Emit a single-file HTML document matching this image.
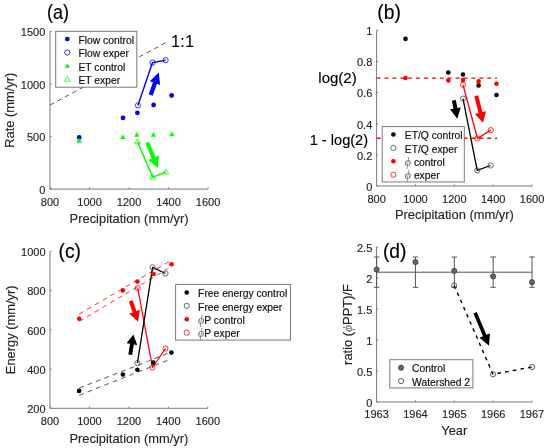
<!DOCTYPE html><html><head><meta charset="utf-8"><style>html,body{margin:0;padding:0;background:#fff;overflow:hidden}svg{display:block;filter:blur(0.3px)}</style></head><body>
<svg width="550" height="448" viewBox="0 0 550 448" font-family="Liberation Sans, sans-serif">
<rect width="550" height="448" fill="#fff"/>
<line x1="50.00" y1="105.10" x2="165.60" y2="42.70" stroke="#505050" stroke-width="1.0" stroke-dasharray="4.6,3.85"/>
<path d="M50,31.4 V189.1 H208.1" fill="none" stroke="#7a7a7a" stroke-width="1.0"/>
<line x1="50.00" y1="189.10" x2="50.00" y2="187.50" stroke="#7a7a7a" stroke-width="1.0" />
<line x1="89.53" y1="189.10" x2="89.53" y2="187.50" stroke="#7a7a7a" stroke-width="1.0" />
<line x1="129.05" y1="189.10" x2="129.05" y2="187.50" stroke="#7a7a7a" stroke-width="1.0" />
<line x1="168.57" y1="189.10" x2="168.57" y2="187.50" stroke="#7a7a7a" stroke-width="1.0" />
<line x1="208.10" y1="189.10" x2="208.10" y2="187.50" stroke="#7a7a7a" stroke-width="1.0" />
<line x1="50.00" y1="189.10" x2="51.60" y2="189.10" stroke="#7a7a7a" stroke-width="1.0" />
<line x1="50.00" y1="136.53" x2="51.60" y2="136.53" stroke="#7a7a7a" stroke-width="1.0" />
<line x1="50.00" y1="83.97" x2="51.60" y2="83.97" stroke="#7a7a7a" stroke-width="1.0" />
<line x1="50.00" y1="31.40" x2="51.60" y2="31.40" stroke="#7a7a7a" stroke-width="1.0" />
<text x="50.00" y="205.80" font-size="11.0" text-anchor="middle" fill="#262626" stroke="#262626" stroke-width="0.15" >800</text>
<text x="89.53" y="205.80" font-size="11.0" text-anchor="middle" fill="#262626" stroke="#262626" stroke-width="0.15" >1000</text>
<text x="129.05" y="205.80" font-size="11.0" text-anchor="middle" fill="#262626" stroke="#262626" stroke-width="0.15" >1200</text>
<text x="168.57" y="205.80" font-size="11.0" text-anchor="middle" fill="#262626" stroke="#262626" stroke-width="0.15" >1400</text>
<text x="208.10" y="205.80" font-size="11.0" text-anchor="middle" fill="#262626" stroke="#262626" stroke-width="0.15" >1600</text>
<text x="45.30" y="193.90" font-size="11.0" text-anchor="end" fill="#262626" stroke="#262626" stroke-width="0.15" >0</text>
<text x="45.30" y="141.33" font-size="11.0" text-anchor="end" fill="#262626" stroke="#262626" stroke-width="0.15" >500</text>
<text x="45.30" y="88.77" font-size="11.0" text-anchor="end" fill="#262626" stroke="#262626" stroke-width="0.15" >1000</text>
<text x="45.30" y="36.20" font-size="11.0" text-anchor="end" fill="#262626" stroke="#262626" stroke-width="0.15" >1500</text>
<text x="129.05" y="223.10" font-size="12.9" text-anchor="middle" fill="#262626" stroke="#262626" stroke-width="0.15" >Precipitation (mm/yr)</text>
<text transform="translate(14.4,110.25) rotate(-90)" x="0" y="0" font-size="12.9" text-anchor="middle" fill="#262626" stroke="#262626" stroke-width="0.15">Rate (mm/yr)</text>
<polyline points="137.90,105.40 152.50,62.60 165.60,60.20" fill="none" stroke="#0000ff" stroke-width="1.4" stroke-linejoin="round" />
<polyline points="137.50,141.80 152.70,177.20 165.80,171.90" fill="none" stroke="#00ff00" stroke-width="1.5" stroke-linejoin="round" />
<circle cx="79.20" cy="137.50" r="2.4" fill="#0000ff"/>
<circle cx="123.00" cy="117.90" r="2.4" fill="#0000ff"/>
<circle cx="137.40" cy="112.80" r="2.4" fill="#0000ff"/>
<circle cx="153.60" cy="105.00" r="2.4" fill="#0000ff"/>
<circle cx="171.60" cy="95.50" r="2.4" fill="#0000ff"/>
<circle cx="137.90" cy="105.40" r="2.6" fill="none" stroke="#0000ff" stroke-width="0.8"/>
<circle cx="152.50" cy="62.60" r="2.6" fill="none" stroke="#0000ff" stroke-width="0.8"/>
<circle cx="165.60" cy="60.20" r="2.6" fill="none" stroke="#0000ff" stroke-width="0.8"/>
<polygon points="79.20,137.94 76.53,142.63 81.87,142.63" fill="#00ff00"/>
<polygon points="122.80,134.24 120.13,138.93 125.47,138.93" fill="#00ff00"/>
<polygon points="136.80,132.04 134.13,136.73 139.47,136.73" fill="#00ff00"/>
<polygon points="153.40,132.04 150.73,136.73 156.07,136.73" fill="#00ff00"/>
<polygon points="171.90,131.44 169.23,136.13 174.57,136.13" fill="#00ff00"/>
<polygon points="137.50,138.92 134.72,143.82 140.28,143.82" fill="none" stroke="#00ff00" stroke-width="0.8"/>
<polygon points="152.70,174.32 149.92,179.22 155.48,179.22" fill="none" stroke="#00ff00" stroke-width="0.8"/>
<polygon points="165.80,169.02 163.02,173.92 168.58,173.92" fill="none" stroke="#00ff00" stroke-width="0.8"/>
<polygon points="152.68,95.71 156.95,83.75 160.16,84.90 158.75,72.50 149.80,81.19 153.00,82.34 148.72,94.29" fill="#0000ff"/>
<polygon points="145.36,143.28 151.79,158.54 148.33,160.00 157.90,167.90 158.93,155.53 155.47,156.99 149.04,141.72" fill="#00ff00"/>
<rect x="55.7" y="31.3" width="81.10000000000001" height="55.900000000000006" fill="#fff" stroke="#7a7a7a" stroke-width="1.0"/>
<circle cx="67.30" cy="39.10" r="2.4" fill="#0000ff"/>
<text x="78.5" y="43.70" font-size="10.3" fill="#111" stroke="#111" stroke-width="0.18">Flow control</text>
<circle cx="67.30" cy="52.50" r="2.6" fill="none" stroke="#0000ff" stroke-width="0.8"/>
<text x="78.5" y="57.10" font-size="10.3" fill="#111" stroke="#111" stroke-width="0.18">Flow exper</text>
<polygon points="67.30,63.14 64.63,67.83 69.97,67.83" fill="#00ff00"/>
<text x="78.5" y="70.50" font-size="10.3" fill="#111" stroke="#111" stroke-width="0.18">ET control</text>
<polygon points="67.30,76.42 64.52,81.32 70.08,81.32" fill="none" stroke="#00ff00" stroke-width="0.8"/>
<text x="78.5" y="83.90" font-size="10.3" fill="#111" stroke="#111" stroke-width="0.18">ET exper</text>
<text x="171.20" y="47.20" font-size="15.6" text-anchor="start" fill="#000" stroke="#000" stroke-width="0.15" letter-spacing="0.5">1:1</text>
<text x="47.10" y="19.30" font-size="20" text-anchor="start" fill="#000" stroke="#000" stroke-width="0.15" textLength="22.0" lengthAdjust="spacingAndGlyphs">(a)</text>
<path d="M376.6,30.3 V186.0 H532.1" fill="none" stroke="#7a7a7a" stroke-width="1.0"/>
<line x1="376.60" y1="186.00" x2="376.60" y2="184.40" stroke="#7a7a7a" stroke-width="1.0" />
<line x1="415.48" y1="186.00" x2="415.48" y2="184.40" stroke="#7a7a7a" stroke-width="1.0" />
<line x1="454.35" y1="186.00" x2="454.35" y2="184.40" stroke="#7a7a7a" stroke-width="1.0" />
<line x1="493.23" y1="186.00" x2="493.23" y2="184.40" stroke="#7a7a7a" stroke-width="1.0" />
<line x1="532.10" y1="186.00" x2="532.10" y2="184.40" stroke="#7a7a7a" stroke-width="1.0" />
<line x1="376.60" y1="186.00" x2="378.20" y2="186.00" stroke="#7a7a7a" stroke-width="1.0" />
<line x1="376.60" y1="154.86" x2="378.20" y2="154.86" stroke="#7a7a7a" stroke-width="1.0" />
<line x1="376.60" y1="123.72" x2="378.20" y2="123.72" stroke="#7a7a7a" stroke-width="1.0" />
<line x1="376.60" y1="92.58" x2="378.20" y2="92.58" stroke="#7a7a7a" stroke-width="1.0" />
<line x1="376.60" y1="61.44" x2="378.20" y2="61.44" stroke="#7a7a7a" stroke-width="1.0" />
<line x1="376.60" y1="30.30" x2="378.20" y2="30.30" stroke="#7a7a7a" stroke-width="1.0" />
<text x="376.60" y="202.60" font-size="11.0" text-anchor="middle" fill="#262626" stroke="#262626" stroke-width="0.15" >800</text>
<text x="415.48" y="202.60" font-size="11.0" text-anchor="middle" fill="#262626" stroke="#262626" stroke-width="0.15" >1000</text>
<text x="454.35" y="202.60" font-size="11.0" text-anchor="middle" fill="#262626" stroke="#262626" stroke-width="0.15" >1200</text>
<text x="493.23" y="202.60" font-size="11.0" text-anchor="middle" fill="#262626" stroke="#262626" stroke-width="0.15" >1400</text>
<text x="532.10" y="202.60" font-size="11.0" text-anchor="middle" fill="#262626" stroke="#262626" stroke-width="0.15" >1600</text>
<text x="372.30" y="190.80" font-size="11.0" text-anchor="end" fill="#262626" stroke="#262626" stroke-width="0.15" >0</text>
<text x="372.30" y="159.66" font-size="11.0" text-anchor="end" fill="#262626" stroke="#262626" stroke-width="0.15" >0.2</text>
<text x="372.30" y="128.52" font-size="11.0" text-anchor="end" fill="#262626" stroke="#262626" stroke-width="0.15" >0.4</text>
<text x="372.30" y="97.38" font-size="11.0" text-anchor="end" fill="#262626" stroke="#262626" stroke-width="0.15" >0.6</text>
<text x="372.30" y="66.24" font-size="11.0" text-anchor="end" fill="#262626" stroke="#262626" stroke-width="0.15" >0.8</text>
<text x="372.30" y="35.10" font-size="11.0" text-anchor="end" fill="#262626" stroke="#262626" stroke-width="0.15" >1</text>
<text x="454.35" y="218.90" font-size="12.9" text-anchor="middle" fill="#262626" stroke="#262626" stroke-width="0.15" >Precipitation (mm/yr)</text>
<line x1="376.60" y1="78.10" x2="497.10" y2="78.10" stroke="#ff0000" stroke-width="1.4" stroke-dasharray="3.9,4.0"/>
<line x1="376.60" y1="138.30" x2="497.10" y2="138.30" stroke="#ff0000" stroke-width="1.4" stroke-dasharray="3.9,4.0"/>
<polyline points="463.00,84.80 477.50,138.50 490.80,130.10" fill="none" stroke="#ff0000" stroke-width="1.3" stroke-linejoin="round" />
<polyline points="463.00,98.60 477.20,170.40 490.60,165.50" fill="none" stroke="#000000" stroke-width="1.3" stroke-linejoin="round" />
<circle cx="405.50" cy="38.90" r="2.3" fill="#000000"/>
<circle cx="448.30" cy="72.50" r="2.3" fill="#000000"/>
<circle cx="463.00" cy="74.50" r="2.3" fill="#000000"/>
<circle cx="478.60" cy="85.40" r="2.3" fill="#000000"/>
<circle cx="496.50" cy="95.00" r="2.3" fill="#000000"/>
<circle cx="405.50" cy="78.00" r="2.3" fill="#ff0000"/>
<circle cx="448.30" cy="80.40" r="2.3" fill="#ff0000"/>
<circle cx="463.00" cy="80.10" r="2.3" fill="#ff0000"/>
<circle cx="478.60" cy="81.40" r="2.3" fill="#ff0000"/>
<circle cx="496.50" cy="83.80" r="2.3" fill="#ff0000"/>
<circle cx="463.00" cy="84.80" r="2.6" fill="none" stroke="#ff0000" stroke-width="0.8"/>
<circle cx="477.50" cy="138.50" r="2.6" fill="none" stroke="#ff0000" stroke-width="0.8"/>
<circle cx="490.80" cy="130.10" r="2.6" fill="none" stroke="#ff0000" stroke-width="0.8"/>
<circle cx="463.00" cy="98.60" r="2.6" fill="none" stroke="#444" stroke-width="0.8"/>
<circle cx="477.20" cy="170.40" r="2.6" fill="none" stroke="#444" stroke-width="0.8"/>
<circle cx="490.60" cy="165.50" r="2.6" fill="none" stroke="#444" stroke-width="0.8"/>
<polygon points="451.93,100.71 453.42,108.74 450.03,109.37 457.30,118.70 460.75,107.38 457.35,108.01 455.87,99.99" fill="#000000"/>
<polygon points="474.36,96.29 478.54,113.00 474.95,113.90 483.05,122.80 486.01,111.13 482.42,112.03 478.24,95.31" fill="#ff0000"/>
<rect x="382.2" y="126.6" width="82.10000000000002" height="55.349999999999994" fill="#fff" stroke="#7a7a7a" stroke-width="1.0"/>
<circle cx="393.40" cy="134.50" r="2.3" fill="#000000"/>
<text x="404.8" y="139.10" font-size="10.3" fill="#111" stroke="#111" stroke-width="0.18">ET/Q control</text>
<circle cx="393.40" cy="147.90" r="2.6" fill="none" stroke="#444" stroke-width="0.8"/>
<text x="404.8" y="152.50" font-size="10.3" fill="#111" stroke="#111" stroke-width="0.18">ET/Q exper</text>
<circle cx="393.40" cy="161.30" r="2.3" fill="#ff0000"/>
<text x="404.8" y="165.90" font-size="10.3" fill="#111" stroke="#111" stroke-width="0.18"><tspan font-family="Liberation Serif, serif" font-style="italic" font-size="12" fill="#666" stroke="none">ϕ</tspan> control</text>
<circle cx="393.40" cy="174.70" r="2.6" fill="none" stroke="#ff0000" stroke-width="0.8"/>
<text x="404.8" y="179.30" font-size="10.3" fill="#111" stroke="#111" stroke-width="0.18"><tspan font-family="Liberation Serif, serif" font-style="italic" font-size="12" fill="#666" stroke="none">ϕ</tspan> exper</text>
<text x="318.30" y="83.30" font-size="15" text-anchor="start" fill="#000" stroke="#000" stroke-width="0.15" >log(2)</text>
<text x="309.70" y="144.50" font-size="14.6" text-anchor="start" fill="#000" stroke="#000" stroke-width="0.15" >1 - log(2)</text>
<text x="377.30" y="19.10" font-size="20" text-anchor="start" fill="#000" stroke="#000" stroke-width="0.15" textLength="23.6" lengthAdjust="spacingAndGlyphs">(b)</text>
<path d="M50,251.3 V408.3 H207.8" fill="none" stroke="#7a7a7a" stroke-width="1.0"/>
<line x1="50.00" y1="408.30" x2="50.00" y2="406.70" stroke="#7a7a7a" stroke-width="1.0" />
<line x1="89.45" y1="408.30" x2="89.45" y2="406.70" stroke="#7a7a7a" stroke-width="1.0" />
<line x1="128.90" y1="408.30" x2="128.90" y2="406.70" stroke="#7a7a7a" stroke-width="1.0" />
<line x1="168.35" y1="408.30" x2="168.35" y2="406.70" stroke="#7a7a7a" stroke-width="1.0" />
<line x1="207.80" y1="408.30" x2="207.80" y2="406.70" stroke="#7a7a7a" stroke-width="1.0" />
<line x1="50.00" y1="408.30" x2="51.60" y2="408.30" stroke="#7a7a7a" stroke-width="1.0" />
<line x1="50.00" y1="369.05" x2="51.60" y2="369.05" stroke="#7a7a7a" stroke-width="1.0" />
<line x1="50.00" y1="329.80" x2="51.60" y2="329.80" stroke="#7a7a7a" stroke-width="1.0" />
<line x1="50.00" y1="290.55" x2="51.60" y2="290.55" stroke="#7a7a7a" stroke-width="1.0" />
<line x1="50.00" y1="251.30" x2="51.60" y2="251.30" stroke="#7a7a7a" stroke-width="1.0" />
<text x="50.00" y="425.20" font-size="11.0" text-anchor="middle" fill="#262626" stroke="#262626" stroke-width="0.15" >800</text>
<text x="89.45" y="425.20" font-size="11.0" text-anchor="middle" fill="#262626" stroke="#262626" stroke-width="0.15" >1000</text>
<text x="128.90" y="425.20" font-size="11.0" text-anchor="middle" fill="#262626" stroke="#262626" stroke-width="0.15" >1200</text>
<text x="168.35" y="425.20" font-size="11.0" text-anchor="middle" fill="#262626" stroke="#262626" stroke-width="0.15" >1400</text>
<text x="207.80" y="425.20" font-size="11.0" text-anchor="middle" fill="#262626" stroke="#262626" stroke-width="0.15" >1600</text>
<text x="45.60" y="413.10" font-size="11.0" text-anchor="end" fill="#262626" stroke="#262626" stroke-width="0.15" >200</text>
<text x="45.60" y="373.85" font-size="11.0" text-anchor="end" fill="#262626" stroke="#262626" stroke-width="0.15" >400</text>
<text x="45.60" y="334.60" font-size="11.0" text-anchor="end" fill="#262626" stroke="#262626" stroke-width="0.15" >600</text>
<text x="45.60" y="295.35" font-size="11.0" text-anchor="end" fill="#262626" stroke="#262626" stroke-width="0.15" >800</text>
<text x="45.60" y="256.10" font-size="11.0" text-anchor="end" fill="#262626" stroke="#262626" stroke-width="0.15" >1000</text>
<text x="128.90" y="442.60" font-size="12.9" text-anchor="middle" fill="#262626" stroke="#262626" stroke-width="0.15" >Precipitation (mm/yr)</text>
<text transform="translate(15.1,329.8) rotate(-90)" x="0" y="0" font-size="12.9" text-anchor="middle" fill="#262626" stroke="#262626" stroke-width="0.15">Energy (mm/yr)</text>
<line x1="79.20" y1="314.00" x2="171.50" y2="260.20" stroke="#ff5555" stroke-width="1.05" stroke-dasharray="4.8,4.2"/>
<line x1="79.20" y1="321.40" x2="171.50" y2="266.50" stroke="#ff5555" stroke-width="1.05" stroke-dasharray="4.8,4.2"/>
<line x1="79.20" y1="388.10" x2="171.50" y2="352.00" stroke="#676767" stroke-width="1.05" stroke-dasharray="4.8,4.2"/>
<line x1="79.20" y1="395.20" x2="171.50" y2="358.80" stroke="#676767" stroke-width="1.05" stroke-dasharray="4.8,4.2"/>
<polyline points="137.70,288.00 152.50,367.50 165.50,348.50" fill="none" stroke="#ff0000" stroke-width="1.3" stroke-linejoin="round" />
<polyline points="137.40,363.10 152.60,267.30 165.50,273.50" fill="none" stroke="#000000" stroke-width="1.3" stroke-linejoin="round" />
<circle cx="79.20" cy="318.70" r="2.3" fill="#ff0000"/>
<circle cx="122.80" cy="290.40" r="2.3" fill="#ff0000"/>
<circle cx="137.40" cy="281.60" r="2.3" fill="#ff0000"/>
<circle cx="153.60" cy="274.00" r="2.3" fill="#ff0000"/>
<circle cx="171.60" cy="264.20" r="2.3" fill="#ff0000"/>
<circle cx="79.10" cy="390.90" r="2.3" fill="#000000"/>
<circle cx="122.90" cy="374.50" r="2.3" fill="#000000"/>
<circle cx="137.40" cy="369.80" r="2.3" fill="#000000"/>
<circle cx="153.20" cy="362.60" r="2.3" fill="#000000"/>
<circle cx="171.40" cy="352.60" r="2.3" fill="#000000"/>
<circle cx="137.70" cy="288.00" r="2.6" fill="none" stroke="#ff0000" stroke-width="0.8"/>
<circle cx="152.50" cy="367.50" r="2.6" fill="none" stroke="#ff0000" stroke-width="0.8"/>
<circle cx="165.50" cy="348.50" r="2.6" fill="none" stroke="#ff0000" stroke-width="0.8"/>
<circle cx="137.40" cy="363.10" r="2.6" fill="none" stroke="#444" stroke-width="0.8"/>
<circle cx="152.60" cy="267.30" r="2.6" fill="none" stroke="#444" stroke-width="0.8"/>
<circle cx="165.50" cy="273.50" r="2.6" fill="none" stroke="#444" stroke-width="0.8"/>
<polygon points="128.81,301.57 132.64,312.38 129.20,313.60 138.10,321.80 139.85,309.83 136.41,311.05 132.59,300.23" fill="#ff0000"/>
<polygon points="132.13,355.04 133.78,344.38 137.24,344.91 133.40,334.40 126.56,343.26 130.02,343.79 128.37,354.46" fill="#000000"/>
<rect x="175.6" y="284.4" width="114.9" height="55.700000000000045" fill="#fff" stroke="#7a7a7a" stroke-width="1.0"/>
<circle cx="186.75" cy="292.50" r="2.3" fill="#000000"/>
<text x="198.1" y="297.10" font-size="10.3" fill="#111" stroke="#111" stroke-width="0.18">Free energy control</text>
<circle cx="186.75" cy="305.90" r="2.6" fill="none" stroke="#444" stroke-width="0.8"/>
<text x="198.1" y="310.50" font-size="10.3" fill="#111" stroke="#111" stroke-width="0.18">Free energy exper</text>
<circle cx="186.75" cy="319.30" r="2.3" fill="#ff0000"/>
<text x="198.1" y="323.90" font-size="10.3" fill="#111" stroke="#111" stroke-width="0.18"><tspan font-family="Liberation Serif, serif" font-style="italic" font-size="12" fill="#666" stroke="none">ϕ</tspan>P control</text>
<circle cx="186.75" cy="332.70" r="2.6" fill="none" stroke="#ff0000" stroke-width="0.8"/>
<text x="198.1" y="337.30" font-size="10.3" fill="#111" stroke="#111" stroke-width="0.18"><tspan font-family="Liberation Serif, serif" font-style="italic" font-size="12" fill="#666" stroke="none">ϕ</tspan>P exper</text>
<text x="58.60" y="257.80" font-size="20" text-anchor="start" fill="#000" stroke="#000" stroke-width="0.15" textLength="22.4" lengthAdjust="spacingAndGlyphs">(c)</text>
<path d="M376.6,247.0 V402.0 H532.0" fill="none" stroke="#7a7a7a" stroke-width="1.0"/>
<line x1="376.60" y1="402.00" x2="376.60" y2="400.40" stroke="#7a7a7a" stroke-width="1.0" />
<line x1="415.45" y1="402.00" x2="415.45" y2="400.40" stroke="#7a7a7a" stroke-width="1.0" />
<line x1="454.30" y1="402.00" x2="454.30" y2="400.40" stroke="#7a7a7a" stroke-width="1.0" />
<line x1="493.15" y1="402.00" x2="493.15" y2="400.40" stroke="#7a7a7a" stroke-width="1.0" />
<line x1="532.00" y1="402.00" x2="532.00" y2="400.40" stroke="#7a7a7a" stroke-width="1.0" />
<line x1="376.60" y1="402.00" x2="378.20" y2="402.00" stroke="#7a7a7a" stroke-width="1.0" />
<line x1="376.60" y1="371.00" x2="378.20" y2="371.00" stroke="#7a7a7a" stroke-width="1.0" />
<line x1="376.60" y1="340.00" x2="378.20" y2="340.00" stroke="#7a7a7a" stroke-width="1.0" />
<line x1="376.60" y1="309.00" x2="378.20" y2="309.00" stroke="#7a7a7a" stroke-width="1.0" />
<line x1="376.60" y1="278.00" x2="378.20" y2="278.00" stroke="#7a7a7a" stroke-width="1.0" />
<line x1="376.60" y1="247.00" x2="378.20" y2="247.00" stroke="#7a7a7a" stroke-width="1.0" />
<text x="376.60" y="418.20" font-size="11.0" text-anchor="middle" fill="#262626" stroke="#262626" stroke-width="0.15" >1963</text>
<text x="415.45" y="418.20" font-size="11.0" text-anchor="middle" fill="#262626" stroke="#262626" stroke-width="0.15" >1964</text>
<text x="454.30" y="418.20" font-size="11.0" text-anchor="middle" fill="#262626" stroke="#262626" stroke-width="0.15" >1965</text>
<text x="493.15" y="418.20" font-size="11.0" text-anchor="middle" fill="#262626" stroke="#262626" stroke-width="0.15" >1966</text>
<text x="532.00" y="418.20" font-size="11.0" text-anchor="middle" fill="#262626" stroke="#262626" stroke-width="0.15" >1967</text>
<text x="372.30" y="406.80" font-size="11.0" text-anchor="end" fill="#262626" stroke="#262626" stroke-width="0.15" >0</text>
<text x="372.30" y="375.80" font-size="11.0" text-anchor="end" fill="#262626" stroke="#262626" stroke-width="0.15" >0.5</text>
<text x="372.30" y="344.80" font-size="11.0" text-anchor="end" fill="#262626" stroke="#262626" stroke-width="0.15" >1</text>
<text x="372.30" y="313.80" font-size="11.0" text-anchor="end" fill="#262626" stroke="#262626" stroke-width="0.15" >1.5</text>
<text x="372.30" y="282.80" font-size="11.0" text-anchor="end" fill="#262626" stroke="#262626" stroke-width="0.15" >2</text>
<text x="372.30" y="251.80" font-size="11.0" text-anchor="end" fill="#262626" stroke="#262626" stroke-width="0.15" >2.5</text>
<text x="454.30" y="435.00" font-size="12.9" text-anchor="middle" fill="#262626" stroke="#262626" stroke-width="0.15" >Year</text>
<text transform="translate(352.0,324.5) rotate(-90)" x="0" y="0" font-size="12.9" text-anchor="middle" fill="#262626" stroke="#262626" stroke-width="0.15">ratio (<tspan font-family="Liberation Serif, serif" font-style="italic" font-size="13.5" fill="#555" stroke="none">ϕ</tspan>PPT)/F</text>
<line x1="376.60" y1="272.20" x2="532.00" y2="272.20" stroke="#555" stroke-width="1.0" />
<line x1="376.60" y1="257.00" x2="376.60" y2="287.30" stroke="#555" stroke-width="1.0" />
<line x1="373.90" y1="257.00" x2="379.30" y2="257.00" stroke="#555" stroke-width="1.0" />
<line x1="373.90" y1="287.30" x2="379.30" y2="287.30" stroke="#555" stroke-width="1.0" />
<circle cx="376.60" cy="269.5" r="2.6" fill="#666" stroke="#333" stroke-width="0.7"/>
<line x1="415.45" y1="257.00" x2="415.45" y2="287.30" stroke="#555" stroke-width="1.0" />
<line x1="412.75" y1="257.00" x2="418.15" y2="257.00" stroke="#555" stroke-width="1.0" />
<line x1="412.75" y1="287.30" x2="418.15" y2="287.30" stroke="#555" stroke-width="1.0" />
<circle cx="415.45" cy="262.1" r="2.6" fill="#666" stroke="#333" stroke-width="0.7"/>
<line x1="454.30" y1="257.00" x2="454.30" y2="287.30" stroke="#555" stroke-width="1.0" />
<line x1="451.60" y1="257.00" x2="457.00" y2="257.00" stroke="#555" stroke-width="1.0" />
<line x1="451.60" y1="287.30" x2="457.00" y2="287.30" stroke="#555" stroke-width="1.0" />
<circle cx="454.30" cy="270.9" r="2.6" fill="#666" stroke="#333" stroke-width="0.7"/>
<line x1="493.15" y1="257.00" x2="493.15" y2="287.30" stroke="#555" stroke-width="1.0" />
<line x1="490.45" y1="257.00" x2="495.85" y2="257.00" stroke="#555" stroke-width="1.0" />
<line x1="490.45" y1="287.30" x2="495.85" y2="287.30" stroke="#555" stroke-width="1.0" />
<circle cx="493.15" cy="276.4" r="2.6" fill="#666" stroke="#333" stroke-width="0.7"/>
<line x1="532.00" y1="257.00" x2="532.00" y2="287.30" stroke="#555" stroke-width="1.0" />
<line x1="529.30" y1="257.00" x2="534.70" y2="257.00" stroke="#555" stroke-width="1.0" />
<line x1="529.30" y1="287.30" x2="534.70" y2="287.30" stroke="#555" stroke-width="1.0" />
<circle cx="532.00" cy="282.2" r="2.6" fill="#666" stroke="#333" stroke-width="0.7"/>
<polyline points="454.20,285.50 493.00,374.30 532.00,367.00" fill="none" stroke="#000000" stroke-width="1.4" stroke-linejoin="round" stroke-dasharray="3.6,4.2"/>
<circle cx="454.20" cy="285.50" r="2.6" fill="none" stroke="#333" stroke-width="0.8"/>
<circle cx="493.00" cy="374.30" r="2.6" fill="none" stroke="#333" stroke-width="0.8"/>
<circle cx="532.00" cy="367.00" r="2.6" fill="none" stroke="#333" stroke-width="0.8"/>
<polygon points="473.44,313.50 483.03,336.27 479.48,337.76 489.00,345.80 489.90,333.38 486.35,334.87 476.76,312.10" fill="#000000"/>
<rect x="389.8" y="359.7" width="83.09999999999997" height="28.19999999999999" fill="#fff" stroke="#7a7a7a" stroke-width="1.0"/>
<circle cx="401.1" cy="367.7" r="2.6" fill="#666" stroke="#333" stroke-width="0.7"/>
<text x="412.1" y="372.30" font-size="10.3" fill="#111" stroke="#111" stroke-width="0.18">Control</text>
<circle cx="401.10" cy="381.10" r="2.6" fill="none" stroke="#333" stroke-width="0.8"/>
<text x="412.1" y="385.70" font-size="10.3" fill="#111" stroke="#111" stroke-width="0.18">Watershed 2</text>
<text x="382.90" y="257.80" font-size="20" text-anchor="start" fill="#000" stroke="#000" stroke-width="0.15" textLength="23.6" lengthAdjust="spacingAndGlyphs">(d)</text>
</svg></body></html>
